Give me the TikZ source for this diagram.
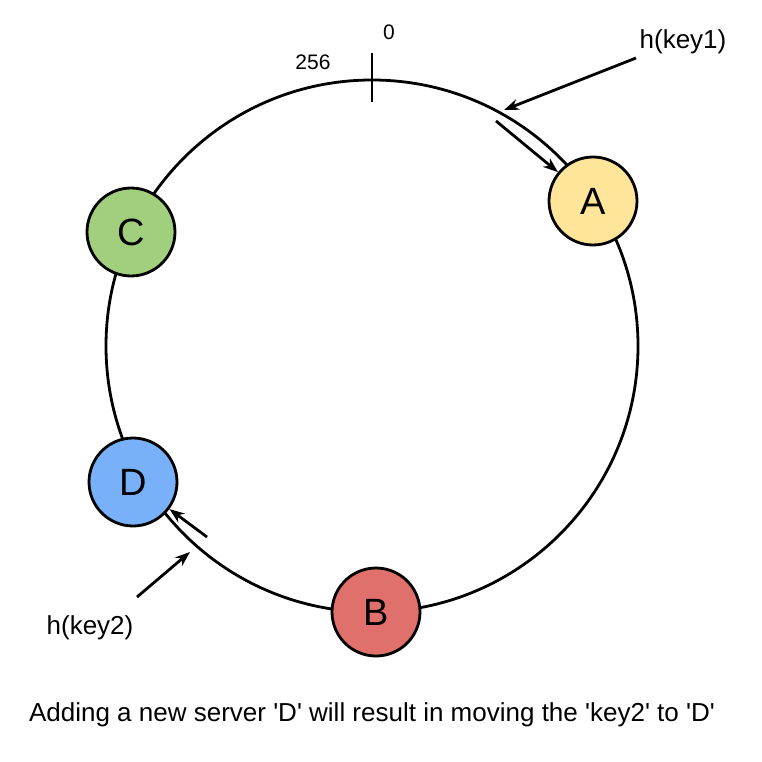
\documentclass[tikz,border=0pt]{standalone}
\usepackage{fontspec}
\setmainfont{Liberation Sans}
\usetikzlibrary{arrows.meta}
\definecolor{cA}{HTML}{FFE599}
\definecolor{cB}{HTML}{E0706B}
\definecolor{cC}{HTML}{A2CF7D}
\definecolor{cD}{HTML}{78B1FA}
\begin{document}
\begin{tikzpicture}[x=1pt,y=-1pt,
  srv/.style={circle,draw,line width=2.8pt,minimum size=88pt,inner sep=0pt,font=\fontsize{38}{38}\selectfont},
  lbl/.style={font=\fontsize{26}{26}\selectfont},
  sml/.style={font=\fontsize{21}{21}\selectfont},
  arr/.style={line width=2.8pt,-{Stealth[length=15pt,width=11pt]}}]
\useasboundingbox (0,0) rectangle (762,762);
\draw[line width=2.8pt] (372,346) circle (266);
\coordinate (t1) at (372,53); \coordinate (t2) at (372,102);
\draw[line width=2.8pt] (t1) -- (t2);
\node[sml] (z) at (389,32) {0};
\node[sml] (f) at (313,62) {256};
\node[srv,fill=cA] (A) at (593,201) {A};
\node[srv,fill=cC] (C) at (131,232) {C};
\node[srv,fill=cD] (D) at (133,482) {D};
\node[srv,fill=cB] (B) at (376,612) {B};
\node[lbl] (k1) at (683,42) {h(key1)};
\node[lbl] (k2) at (90,628) {h(key2)};
\coordinate (k1s) at (636,58); \coordinate (k1e) at (504,110);
\coordinate (m1) at (496,121);
\coordinate (k2s) at (137,597); \coordinate (k2e) at (190,552);
\coordinate (m2) at (207,537);
\draw[arr] (k1s) -- (k1e);
\draw[arr] (m1) -- (A);
\draw[arr] (k2s) -- (k2e);
\draw[arr] (m2) -- (D);
\node[lbl] (cap) at (372,715) {Adding a new server \textquotesingle D\textquotesingle\ will result in moving the \textquotesingle key2\textquotesingle\ to \textquotesingle D\textquotesingle};
\end{tikzpicture}
\end{document}
